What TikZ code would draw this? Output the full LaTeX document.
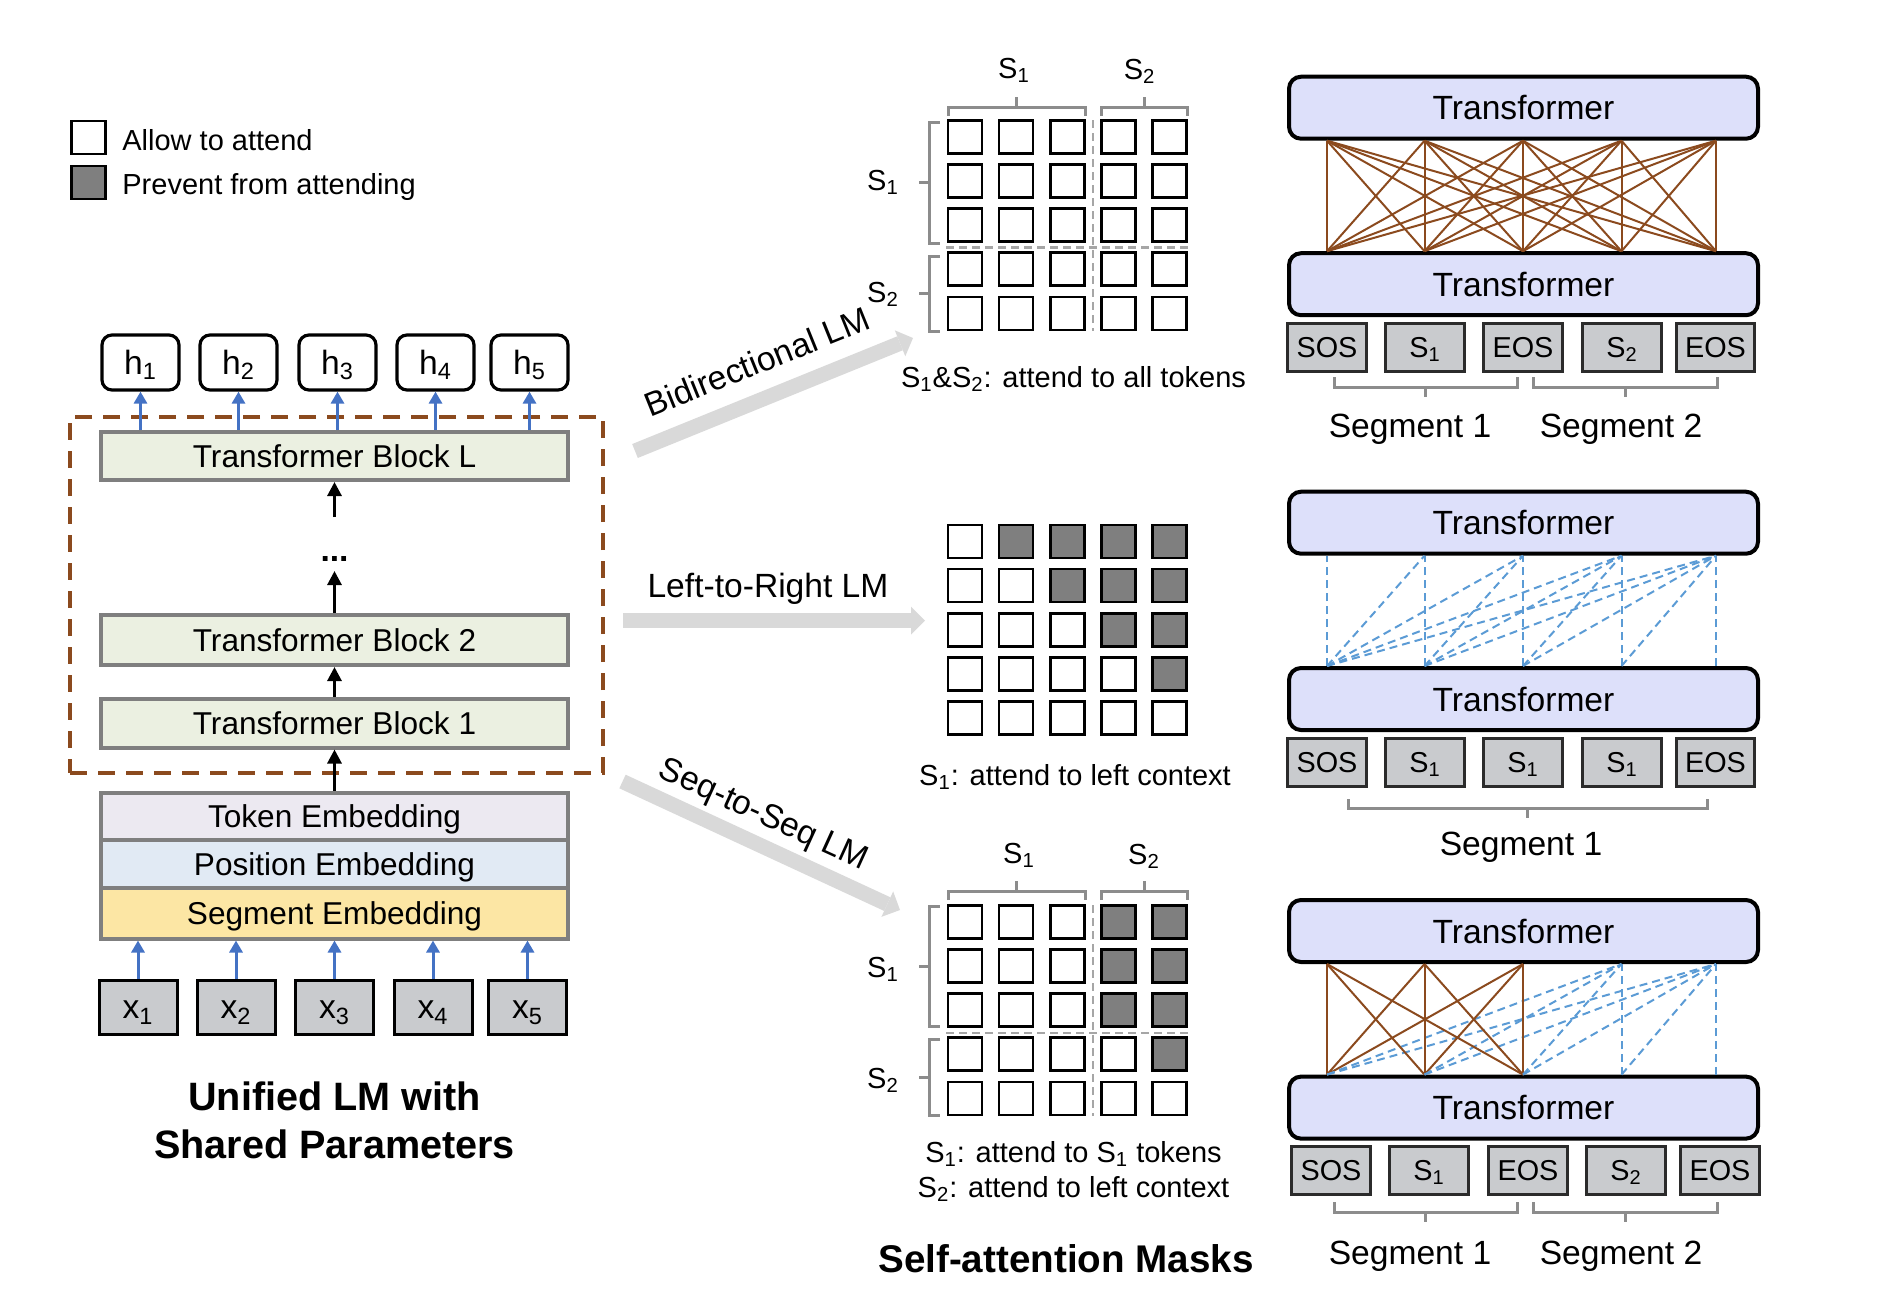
\documentclass[tikz,border=0pt]{standalone}
\usepackage{fontspec}
\setmainfont{Liberation Sans}
\usetikzlibrary{arrows.meta}
\definecolor{blkgreen}{HTML}{EBF0E1}
\definecolor{tokfill}{HTML}{ECE9F1}
\definecolor{posfill}{HTML}{E1EAF4}
\definecolor{segfill}{HTML}{FCE6A4}
\definecolor{tfill}{HTML}{DDE0FA}
\definecolor{tokgray}{HTML}{C9CBCE}
\definecolor{maskgray}{HTML}{7F7F7F}
\definecolor{bordgray}{HTML}{7F7F7F}
\definecolor{connbrown}{HTML}{8B4A1E}
\definecolor{dashblue}{HTML}{5B9BD5}
\definecolor{arrblue}{HTML}{4472C4}
\definecolor{arrgray}{HTML}{D9D9D9}
\definecolor{brkgray}{HTML}{8C8C8C}
\definecolor{sepgray}{HTML}{A6A6A6}
\definecolor{tokborder}{HTML}{2B2B2B}
\newcommand\fT{\fontsize{16.8pt}{19pt}\selectfont}
\newcommand\fB{\fontsize{15.8pt}{18pt}\selectfont}
\newcommand\fS{\fontsize{14.5pt}{17pt}\selectfont}
\newcommand\fK{\fontsize{14.4pt}{17pt}\selectfont}
\newcommand\fHa{\fontsize{19.8pt}{22pt}\selectfont\bfseries}
\newcommand\fHb{\fontsize{19.3pt}{22pt}\selectfont\bfseries}
\newcommand\sub[1]{\textsubscript{#1}}
\begin{document}
\begin{tikzpicture}[x=0.5pt,y=-0.5pt,
  every node/.style={inner sep=0pt},
  blk/.style={draw=bordgray, line width=2pt, fill=blkgreen, minimum width=233.5pt, font=\fB, text height=11.4pt, text depth=0pt},
  emb/.style={draw=bordgray, line width=2pt, minimum width=233.5pt, font=\fB, text height=11.4pt, text depth=0pt},
  hbox/.style={draw=black, line width=1.6pt, fill=white, rounded corners=5pt, minimum width=38.5pt, minimum height=27.5pt, font=\fT, text height=11.9pt, text depth=0pt},
  xbox/.style={draw=black, line width=1.5pt, fill=tokgray, minimum width=39pt, minimum height=27pt, font=\fT, text height=11.9pt, text depth=0pt},
  mask/.style={draw=black, line width=1.35pt, fill=white, minimum width=17pt, minimum height=16.5pt},
  maskf/.style={mask, fill=maskgray},
  tf/.style={draw=black, line width=2pt, fill=tfill, rounded corners=6pt, minimum width=234.5pt, minimum height=31pt, font=\fT, text height=12.1pt, text depth=0pt},
  tok/.style={draw=tokborder, line width=1.5pt, fill=tokgray, minimum width=39.25pt, minimum height=24pt, font=\fK, text height=10.3pt, text depth=0pt},
  brk/.style={draw=brkgray, line width=1.5pt},
  sep/.style={draw=sepgray, line width=1.1pt, dash pattern=on 4pt off 2.5pt},
  conn/.style={draw=connbrown, line width=1pt},
  att/.style={draw=dashblue, line width=1pt, dash pattern=on 4pt off 2.5pt},
  barr/.style={draw=arrblue, line width=1.5pt, -{Triangle[length=6pt,width=6.5pt]}},
  karr/.style={draw=black, line width=1.5pt, -{Triangle[length=7pt,width=7pt]}},
  bigarr/.style={draw=arrgray, line width=7.5pt, -{Triangle[length=7pt,width=14pt,line width=0pt]}},
  lab/.style={font=\fS, anchor=base}
]
\useasboundingbox (0,0) rectangle (1880,1298);

% ---------- legend ----------
\node[mask] (lgA) at (88.5,137.5) {};
\node[maskf] (lgB) at (88.5,182.5) {};
\node[font=\fS, anchor=base west] (lgAt) at (122,150) {Allow to attend};
\node[font=\fS, anchor=base west] (lgBt) at (122,194.5) {Prevent from attending};

% ---------- left model ----------
\node[draw=connbrown, line width=1.6pt, dash pattern=on 8.5pt off 5.5pt, minimum width=266.5pt, minimum height=178pt] (shared) at (336.5,595) {};

\foreach \i/\x in {1/140.5,2/238.5,3/337.5,4/435.5,5/529.5}
  \node[hbox] (h\i) at (\x,362.5) {h\sub{\i}};

\node[blk, minimum height=24pt] (bL) at (334.5,456) {Transformer Block L};
\node[blk, minimum height=25pt] (b2) at (334.5,640) {Transformer Block 2};
\node[blk, minimum height=24.5pt] (b1) at (334.5,723) {Transformer Block 1};

\node[emb, fill=tokfill, minimum height=23.5pt] (eT) at (334.5,816) {Token Embedding};
\node[emb, fill=posfill, minimum height=24.25pt] (eP) at (334.5,863.75) {Position Embedding};
\node[emb, fill=segfill, minimum height=25.25pt] (eS) at (334.5,913.25) {Segment Embedding};

\foreach \i/\x in {1/138,2/236,3/334.5,4/433,5/527.5}
  \node[xbox] (x\i) at (\x,1007) {x\sub{\i}};

\foreach \i in {1,...,5} {
  \draw[barr] (x\i.north) -- (x\i.north |- eS.south);
  \draw[barr] (h\i.south |- bL.north) -- (h\i.south);
}

\coordinate (dA) at (334.5,517);
\coordinate (dB) at (334.5,571);
\node[font=\fT\bfseries, anchor=base] (dots) at (334.5,561) {...};
\draw[karr] (dA) -- (bL.south);
\draw[karr] (b2.north) -- (dB);
\draw[karr] (b1.north) -- (b2.south);
\draw[karr] (eT.north) -- (b1.south);

\node[font=\fHa, anchor=base] (t1) at (334.5,1110.5) {Unified LM with};
\node[font=\fHa, anchor=base] (t2) at (334.5,1158) {Shared Parameters};

% ---------- big arrows ----------
\coordinate (bdA) at (635,451);   \coordinate (bdB) at (913,338);
\coordinate (lrA) at (623,620.5); \coordinate (lrB) at (925,620.5);
\coordinate (ssA) at (622.5,781.5); \coordinate (ssB) at (900,910);
\draw[bigarr] (bdA) -- (bdB);
\draw[bigarr] (lrA) -- (lrB);
\draw[bigarr] (ssA) -- (ssB);
\node[font=\fT, rotate=22] (bdL) at (757,362) {Bidirectional LM};
\node[font=\fT, anchor=base] (lrL) at (768,597) {Left-to-Right LM};
\node[font=\fT, rotate=-24.5] (ssL) at (763,816) {Seq-to-Seq LM};

% ---------- mask grids ----------
% grid 1: all allowed
\foreach \r in {1,...,5} \foreach \c in {1,...,5}
  \node[mask] (ma-\r-\c) at ({965+51.1*(\c-1)},{137+44.1*(\r-1)}) {};
% grid 2: left-to-right
\foreach \r in {1,...,5} \foreach \c in {1,...,5} {
  \ifnum\c>\r
    \node[maskf] (mb-\r-\c) at ({965+51.1*(\c-1)},{541.5+44.1*(\r-1)}) {};
  \else
    \node[mask] (mb-\r-\c) at ({965+51.1*(\c-1)},{541.5+44.1*(\r-1)}) {};
  \fi
}
% grid 3: seq-to-seq
\foreach \r in {1,...,5} \foreach \c in {1,...,5} {
  \pgfmathtruncatemacro\ff{((\r<4)&&(\c>3)) || ((\r==4)&&(\c==5)) ? 1 : 0}
  \ifnum\ff=1
    \node[maskf] (mc-\r-\c) at ({965+51.1*(\c-1)},{922+44.1*(\r-1)}) {};
  \else
    \node[mask] (mc-\r-\c) at ({965+51.1*(\c-1)},{922+44.1*(\r-1)}) {};
  \fi
}
% separators
\draw[sep] (1093,120) -- (1093,331);
\draw[sep] (946,247.5) -- (1188,247.5);
\draw[sep] (1093,905) -- (1093,1116);
\draw[sep] (946,1033) -- (1188,1033);

% brackets grid 1
\draw[brk] (948,116) -- (948,107) -- (1085,107) -- (1085,116);
\draw[brk] (1016,107) -- (1016,97);
\draw[brk] (1101,116) -- (1101,107) -- (1187,107) -- (1187,116);
\draw[brk] (1144,107) -- (1144,97);
\draw[brk] (940,122) -- (929,122) -- (929,243) -- (940,243);
\draw[brk] (929,182.5) -- (919,182.5);
\draw[brk] (940,256) -- (929,256) -- (929,331) -- (940,331);
\draw[brk] (929,293) -- (919,293);
% brackets grid 3
\draw[brk] (948,900) -- (948,891) -- (1085,891) -- (1085,900);
\draw[brk] (1016,891) -- (1016,881);
\draw[brk] (1101,900) -- (1101,891) -- (1187,891) -- (1187,900);
\draw[brk] (1144,891) -- (1144,881);
\draw[brk] (940,906.5) -- (929,906.5) -- (929,1026.5) -- (940,1026.5);
\draw[brk] (929,966.5) -- (919,966.5);
\draw[brk] (940,1039) -- (929,1039) -- (929,1115) -- (940,1115);
\draw[brk] (929,1077) -- (919,1077);

% S labels
\node[lab] (sa1) at (1014,78.6) {S\sub{1}};
\node[lab] (sa2) at (1139.6,79) {S\sub{2}};
\node[lab] (sa3) at (883,190.5) {S\sub{1}};
\node[lab] (sa4) at (883,302) {S\sub{2}};
\node[lab] (sc1) at (1019,863.5) {S\sub{1}};
\node[lab] (sc2) at (1144,864) {S\sub{2}};
\node[lab] (sc3) at (883,977) {S\sub{1}};
\node[lab] (sc4) at (883,1088) {S\sub{2}};

% captions
\node[lab] (capA) at (1073.5,387) {S\sub{1}\&S\sub{2}: attend to all tokens};
\node[lab] (capB) at (1075,785) {S\sub{1}: attend to left context};
\node[lab] (capC) at (1073.5,1162) {S\sub{1}: attend to S\sub{1} tokens};
\node[lab] (capD) at (1073.5,1197) {S\sub{2}: attend to left context};
\node[font=\fHb, anchor=base] (t3) at (1066,1272) {Self-attention Masks};

% ---------- right: transformers ----------
\node[tf] (T1u) at (1523.5,107.7) {Transformer};
\node[tf] (T1l) at (1523.5,284.2) {Transformer};
\node[tf] (T2u) at (1523.5,522.7) {Transformer};
\node[tf] (T2l) at (1523.5,699) {Transformer};
\node[tf] (T3u) at (1523.5,931) {Transformer};
\node[tf] (T3l) at (1523.5,1107.6) {Transformer};

\foreach \i/\x/\t in {1/1327/SOS,2/1425/{S\sub{1}},3/1523/EOS,4/1622/{S\sub{2}},5/1715.5/EOS}
  \node[tok] (ta\i) at (\x,347) {\t};
\foreach \i/\x/\t in {1/1327/SOS,2/1425/{S\sub{1}},3/1523/{S\sub{1}},4/1622/{S\sub{1}},5/1715.5/EOS}
  \node[tok] (tb\i) at (\x,762) {\t};
\foreach \i/\x/\t in {1/1331/SOS,2/1429/{S\sub{1}},3/1528/EOS,4/1626/{S\sub{2}},5/1720/EOS}
  \node[tok] (tc\i) at (\x,1170) {\t};

% connections: bidirectional
\foreach \a in {1327,1424.5,1523,1621.5,1716}
  \foreach \b in {1327,1424.5,1523,1621.5,1716}
    \draw[conn] (\a,0 |- T1u.south) -- (\b,0 |- T1l.north);
% connections: left-to-right
\foreach \i/\a in {1/1327,2/1424.5,3/1523,4/1621.5,5/1716}
  \foreach \j/\b in {1/1327,2/1424.5,3/1523,4/1621.5,5/1716} {
    \ifnum\j<\i\else
      \draw[att] (\a,0 |- T2l.north) -- (\b,0 |- T2u.south);
    \fi
  }
% connections: seq-to-seq
\foreach \i/\a in {1/1327,2/1424.5,3/1523,4/1621.5,5/1716}
  \foreach \j/\b in {1/1327,2/1424.5,3/1523,4/1621.5,5/1716} {
    \ifnum\j<4
      \ifnum\i<4
        \draw[conn] (\a,0 |- T3l.north) -- (\b,0 |- T3u.south);
      \fi
    \else
      \ifnum\j<\i\else
        \draw[att] (\a,0 |- T3l.north) -- (\b,0 |- T3u.south);
      \fi
    \fi
  }

% segment brackets
\draw[brk] (1334,377) -- (1334,387) -- (1517,387) -- (1517,377);
\draw[brk] (1425.6,387) -- (1425.6,396.5);
\draw[brk] (1533.5,377) -- (1533.5,387) -- (1717.6,387) -- (1717.6,377);
\draw[brk] (1625,387) -- (1625,396.5);
\draw[brk] (1348,799) -- (1348,808) -- (1707,808) -- (1707,799);
\draw[brk] (1527.5,808) -- (1527.5,818);
\draw[brk] (1334,1202) -- (1334,1212) -- (1517,1212) -- (1517,1202);
\draw[brk] (1425.6,1212) -- (1425.6,1222);
\draw[brk] (1533.5,1202) -- (1533.5,1212) -- (1717.6,1212) -- (1717.6,1202);
\draw[brk] (1625,1212) -- (1625,1222);

\node[font=\fT, anchor=base] (sg1) at (1410,437) {Segment 1};
\node[font=\fT, anchor=base] (sg2) at (1621,437) {Segment 2};
\node[font=\fT, anchor=base] (sg3) at (1521,855) {Segment 1};
\node[font=\fT, anchor=base] (sg4) at (1410,1264) {Segment 1};
\node[font=\fT, anchor=base] (sg5) at (1621,1264) {Segment 2};
\end{tikzpicture}
\end{document}
